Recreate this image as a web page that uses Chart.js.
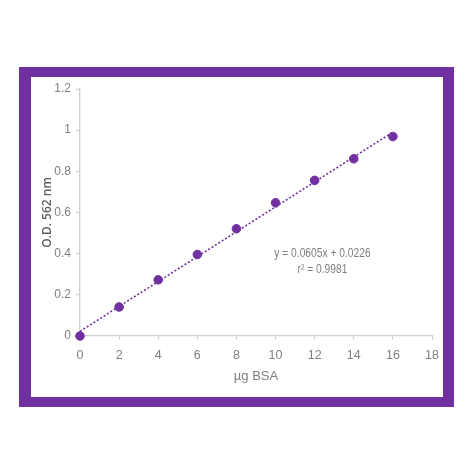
<!DOCTYPE html>
<html>
<head>
<meta charset="utf-8">
<script src="https://cdn.jsdelivr.net/npm/chart.js@4.4.1/dist/chart.umd.min.js"></script>
<style>
  html, body { margin: 0; padding: 0; background: #fff; width: 474px; height: 474px; overflow: hidden; }
  #frame { position: absolute; left: 19px; top: 67px; width: 412px; height: 320px;
           border-style: solid; border-color: #7030A0; border-width: 10px 11px 10px 12px; background: #fff; }
  #wrap { position: relative; width: 412px; height: 320px; }
</style>
</head>
<body>
<div id="frame"><div id="wrap"><canvas id="c"></canvas></div></div>
<script>
const bsaUg = [0, 2, 4, 6, 8, 10, 12, 14, 16];
const odValues = [0.0, 0.141, 0.273, 0.396, 0.521, 0.647, 0.756, 0.861, 0.969];
const trendX = [0, 16];
const trendY = [0.0226, 0.9906];
const xTicks = [0, 2, 4, 6, 8, 10, 12, 14, 16, 18];
const yTicks = [0, 0.2, 0.4, 0.6, 0.8, 1, 1.2];
const xTitle = "µg BSA";
const yTitle = "O.D. 562 nm";
const equationLines = ["y = 0.0605x + 0.0226", "r² = 0.9981"];

const PURPLE = "#7030A0";
const FONT = "'Liberation Sans Narrow', 'Liberation Sans', Arial, sans-serif";

const textPlugin = {
  id: 'eqText',
  afterDatasetsDraw(chart) {
    const ctx = chart.ctx;
    const xs = chart.scales.x, ys = chart.scales.y;
    ctx.save();
    ctx.fillStyle = "#7F7F7F";
    ctx.font = "13.5px " + FONT;
    ctx.textAlign = "center";
    ctx.textBaseline = "middle";
    const cx = xs.getPixelForValue(12.4);
    const sx = 0.76;
    ctx.translate(cx, 0);
    ctx.scale(sx, 1);
    ctx.fillText(equationLines[0], 0, ys.getPixelForValue(0.403));
    ctx.fillText(equationLines[1], 0, ys.getPixelForValue(0.326));
    ctx.restore();
  }
};

new Chart(document.getElementById('c'), {
  type: 'scatter',
  data: {
    datasets: [
      {
        label: 'trend',
        data: trendX.map((x, i) => ({ x: x, y: trendY[i] })),
        showLine: true,
        borderColor: PURPLE,
        borderWidth: 1.6,
        borderDash: [2, 2],
        pointRadius: 0,
        fill: false,
        order: 2
      },
      {
        label: 'OD',
        data: bsaUg.map((x, i) => ({ x: x, y: odValues[i] })),
        backgroundColor: PURPLE,
        borderColor: PURPLE,
        pointRadius: 4.3,
        pointHoverRadius: 4.3,
        clip: false,
        order: 1
      }
    ]
  },
  options: {
    responsive: true,
    maintainAspectRatio: false,
    animation: false,
    events: [],
    layout: { padding: { top: 12, right: 11, left: 9, bottom: 9 } },
    plugins: { legend: { display: false }, tooltip: { enabled: false } },
    scales: {
      x: {
        type: 'linear', min: 0, max: 18,
        afterBuildTicks(s) { s.ticks = xTicks.map(v => ({ value: v })); },
        afterFit(s) { s.height = 52; s.paddingLeft = 0; s.paddingRight = 0; },
        grid: { drawOnChartArea: false, drawTicks: true, tickLength: 4, color: "#D0D0D0" },
        border: { color: "#D0D0D0", width: 1.3 },
        ticks: { color: "#7F7F7F", font: { family: FONT, size: 12.5 }, padding: 8, maxRotation: 0 },
        title: { display: true, text: xTitle, color: "#7F7F7F", font: { family: FONT, size: 13 }, padding: { top: 4 } }
      },
      y: {
        type: 'linear', min: 0, max: 1.2,
        afterBuildTicks(s) { s.ticks = yTicks.map(v => ({ value: v })); },
        afterFit(s) { s.width = 40; s.paddingTop = 0; s.paddingBottom = 0; },
        grid: { drawOnChartArea: false, drawTicks: true, tickLength: 4, color: "#D0D0D0" },
        border: { color: "#D0D0D0", width: 1.3 },
        ticks: { color: "#7F7F7F", font: { family: FONT, size: 12 }, padding: 5, callback: v => String(v) },
        title: { display: true, text: yTitle, color: "#5F5F5F", font: { family: "'Open Sans', 'Liberation Sans', sans-serif", size: 12, weight: '600' }, padding: { top: 0, bottom: 0 } }
      }
    }
  },
  plugins: [textPlugin]
});
</script>
</body>
</html>
